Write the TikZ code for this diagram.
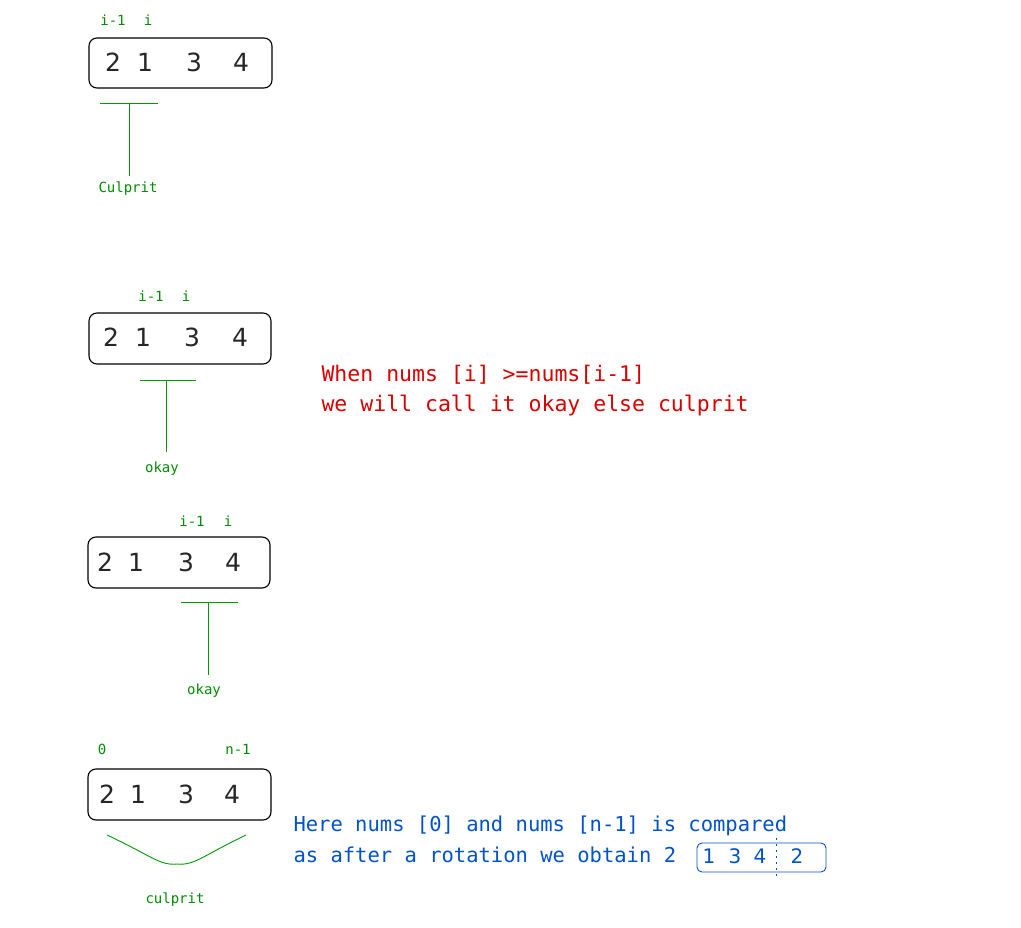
\documentclass[tikz,border=0pt]{standalone}
\usepackage{fontspec}
\setmainfont{DejaVu Sans}
\setmonofont{DejaVu Sans Mono}
\begin{document}
\begin{tikzpicture}[x=1pt,y=-1pt,
  arr/.style={draw=black,rounded corners=8pt,line width=1.1pt},
  num/.style={font=\fontsize{25}{28}\selectfont,text=black!85},
  gl/.style={font=\ttfamily\fontsize{14}{16}\selectfont,text=green!55!black},
  gline/.style={draw=green!60!black,line width=0.9pt},
  red/.style={font=\ttfamily\fontsize{21.5}{30}\selectfont,text=red!85!black,anchor=west},
  blue/.style={font=\ttfamily\fontsize{20.5}{29}\selectfont,text=blue!60!cyan!80!black,anchor=west}]
\useasboundingbox (0,0) rectangle (1021,928);
% set 1
\node[arr,minimum width=183pt,minimum height=50pt] (b1) at (180.5,63) {};
\foreach \x/\t [count=\k] in {113/2,145/1,194/3,241/4} \node[num] (n1\k) at (\x,62) {\t};
\node[gl] (l1a) at (113,20) {i-1}; \node[gl] (l1b) at (148,20) {i};
\coordinate (t1a) at (100,103); \coordinate (t1b) at (158,103); \coordinate (t1c) at (129,103);
\node[gl] (c1) at (128,189) {Culprit};
\draw[gline] (t1a)--(t1b); \draw[gline] (t1c)--(129,176);
% set 2
\node[arr,minimum width=182pt,minimum height=51pt] (b2) at (180,338.5) {};
\foreach \x/\t [count=\k] in {111/2,143/1,192/3,240/4} \node[num] (n2\k) at (\x,337) {\t};
\node[gl] (l2a) at (151,296) {i-1}; \node[gl] (l2b) at (186,296) {i};
\coordinate (t2a) at (140,380); \coordinate (t2b) at (196,380); \coordinate (t2c) at (166,380);
\node[gl] (c2) at (162,469) {okay};
\draw[gline] (t2a)--(t2b); \draw[gline] (t2c)--(166,452);
\node[red] (r1) at (318,375) {When nums [i] >=nums[i-1]};
\node[red] (r2) at (318,406) {we will call it okay else culprit};
% set 3
\node[arr,minimum width=182pt,minimum height=51pt] (b3) at (179,562.5) {};
\foreach \x/\t [count=\k] in {105/2,136/1,186/3,233/4} \node[num] (n3\k) at (\x,562) {\t};
\node[gl] (l3a) at (192,521) {i-1}; \node[gl] (l3b) at (228,521) {i};
\coordinate (t3a) at (181,602); \coordinate (t3b) at (238,602); \coordinate (t3c) at (208,602);
\node[gl] (c3) at (204,691) {okay};
\draw[gline] (t3a)--(t3b); \draw[gline] (t3c)--(208,675);
% set 4
\node[arr,minimum width=183pt,minimum height=51pt] (b4) at (179.5,794.5) {};
\foreach \x/\t [count=\k] in {107/2,138/1,186/3,232/4} \node[num] (n4\k) at (\x,794) {\t};
\node[gl] (l4a) at (102,749) {0}; \node[gl] (l4b) at (238,749) {n-1};
\coordinate (u1) at (107,835); \coordinate (u2) at (246,835);
\draw[gline] (u1) .. controls (150,855) and (160,866) .. (177,864) .. controls (194,866) and (204,855) .. (u2);
\node[gl] (c4) at (175,900) {culprit};
\node[blue] (bl1) at (290,826) {Here nums [0] and nums [n-1] is compared};
\node[blue] (bl2) at (290,855) {as after a rotation we obtain 2};
\node[draw=blue!60!cyan!80!black,rounded corners=5pt,line width=0.9pt,minimum width=129pt,minimum height=29pt] (sb) at (761.5,857.5) {};
\foreach \x/\t [count=\k] in {709/1,735/3,760/4,797/2} \node[font=\fontsize{20}{22}\selectfont,text=blue!60!cyan!80!black] (s\k) at (\x,856) {\t};
\coordinate (d1) at (776,838); \coordinate (d2) at (776,878);
\draw[blue!60!cyan!80!black,line width=1pt,dash pattern=on 2pt off 4pt] (d1)--(d2);
\end{tikzpicture}
\end{document}
